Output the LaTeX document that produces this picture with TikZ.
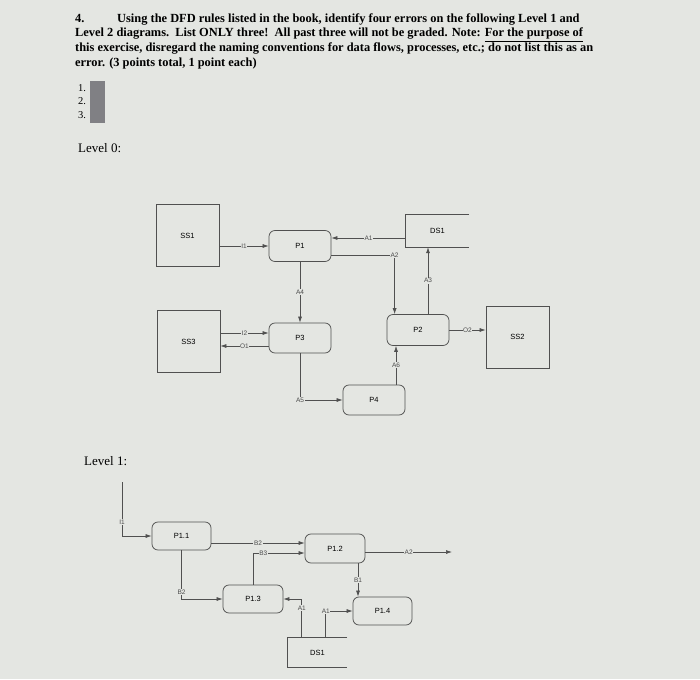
\documentclass[tikz,border=0pt]{standalone}
\usepackage{fontspec}
\setmainfont{Liberation Serif}
\setsansfont{Liberation Sans}
\usetikzlibrary{arrows.meta, calc}

\definecolor{paper}{RGB}{228,230,226}
\definecolor{ink}{RGB}{80,80,80}
\definecolor{blank}{RGB}{128,128,132}

\tikzset{
  ent/.style={draw=ink, line width=0.75pt, minimum width=63pt, minimum height=62pt,
    font=\sffamily\fontsize{7.5}{8}\selectfont},
  proc/.style={draw=ink, line width=0.75pt, rounded corners=6pt, minimum width=62pt,
    minimum height=31pt, font=\sffamily\fontsize{7.5}{8}\selectfont},
  store/.style={minimum width=63pt, minimum height=32pt,
    font=\sffamily\fontsize{7.5}{8}\selectfont},
  flow/.style={draw=ink, line width=0.65pt, -{Latex[length=6pt,width=4pt]}},
  lbl/.style={fill=paper, inner sep=0.6pt, text=black!70,
    font=\sffamily\fontsize{6.5}{7}\selectfont},
  hdr/.style={anchor=base west, inner sep=0pt, font=\fontsize{12.4}{13}\selectfont\bfseries}
}

\begin{document}
\begin{tikzpicture}[x=1pt, y=-1pt]
  \fill[paper] (0,0) rectangle (700,679);
  \useasboundingbox (0,0) rectangle (700,679);
  %--- Question text ---
  \node[hdr] (qnum) at (75,22.3) {4.};
  \node[hdr] (qline1) at (117,22.3) {Using the DFD rules listed in the book, identify four errors on the following Level 1 and};
  \node[hdr] (qline2) at (75,37) {Level 2 diagrams.\ \ List ONLY three!\ \ All past three will not be graded. Note: \underline{For the purpose of}};
  \node[hdr] (qline3) at (75,51.7) {this exercise, disregard the naming conventions for data flows, processes, etc.; do not list this as an};
  \node[hdr] (qline4) at (75,66.4) {error. (3 points total, 1 point each)};
  % answer list
  \foreach \n/\y in {1/92,2/105,3/119}
    \node[anchor=base west, inner sep=0pt, font=\fontsize{10.5}{11}\selectfont] (item\n) at (78,\y) {\n.};
  \fill[blank] (90,81) rectangle (105,123);
  \node[anchor=base west, inner sep=0pt, font=\fontsize{13}{14}\selectfont] (lev0) at (78,153) {Level 0:};
  \node[anchor=base west, inner sep=0pt, font=\fontsize{13}{14}\selectfont] (lev1) at (84,465) {Level 1:};

  %--- Level 0 ---
  \node[ent] (ss1) at (187.5,235.5) {SS1};
  \node[ent] (ss2) at (517.5,337) {SS2};
  \node[ent] (ss3) at (188.5,341.5) {SS3};
  \node[proc] (p1) at (300,246) {P1};
  \node[proc] (p2) at (418,330) {P2};
  \node[proc, minimum height=30pt] (p3) at (300,338) {P3};
  \node[proc, minimum height=30pt] (p4) at (374,400) {P4};
  \node[store] (ds1) at (437.5,231) {DS1};
  % flows
  \draw[flow] (ss1.east |- p1) -- node[lbl]{I1} (p1.west);
  \draw[flow] ($(ds1.west)+(0,7)$) coordinate (a1s) -- node[lbl]{A1} (p1.east |- a1s);
  \draw[flow] ($(p1.east)+(0,9)$) -| node[lbl, pos=0.5]{A2} ($(p2.north west)+(8,0)$);
  \draw[flow] ($(p2.north)+(10,0)$) coordinate (a3s) -- node[lbl]{A3} (ds1.south -| a3s);
  \draw[flow] (p1.south) -- node[lbl]{A4} (p3.north);
  \draw[flow] ($(ss3.east)+(0,-8.5)$) coordinate (i2s) -- node[lbl]{I2} (p3.west |- i2s);
  \draw[flow] ($(p3.west)+(0,8)$) coordinate (o1s) -- node[lbl]{O1} (ss3.east |- o1s);
  \draw[flow] (p2.east) -- node[lbl]{O2} (ss2.west |- p2);
  \draw[flow] (p3.south) |- node[lbl, pos=0.5]{A5} (p4.west);
  \draw[flow] ($(p4.north)+(22,0)$) coordinate (a6s) -- node[lbl]{A6} (p2.south -| a6s);

  %--- Level 1 ---
  \node[proc, minimum width=59pt, minimum height=28pt] (p11) at (181.5,536) {P1.1};
  \node[proc, minimum width=60pt, minimum height=29pt] (p12) at (335,548.5) {P1.2};
  \node[proc, minimum width=60pt, minimum height=28pt] (p13) at (253,599) {P1.3};
  \node[proc, minimum width=59pt, minimum height=28pt] (p14) at (382.5,611) {P1.4};
  \node[store, minimum width=59pt, minimum height=29pt] (ds1b) at (317.5,652.5) {DS1};
  \coordinate (i1s) at (122,482);
  \coordinate (a2end) at (452,552);
  % flows
  \draw[flow] (i1s) |- node[lbl, pos=0.37]{I1} (p11.west);
  \draw[flow] ($(p11.east)+(0,7)$) coordinate (b2s) -- node[lbl]{B2} (p12.west |- b2s);
  \draw[flow] (p13.north) |- node[lbl, pos=0.6]{B3} ($(p12.west)+(0,4.5)$);
  \draw[flow] (p11.south) |- node[lbl, pos=0.43]{B2} (p13.west);
  \draw[flow] (p12.east |- a2end) -- node[lbl]{A2} (a2end);
  \draw[flow] ($(p12.south)+(23,0)$) coordinate (b1s) -- node[lbl]{B1} (p14.north -| b1s);
  \draw[flow] ($(ds1b.north west)+(14,0)$) |- node[lbl, pos=0.38]{A1} (p13.east);
  \draw[flow] ($(ds1b.north west)+(38,0)$) |- node[lbl, pos=0.5]{A1} (p14.west);

  % data stores are open on the right
  \foreach \s in {ds1,ds1b}
    \draw[ink, line width=0.75pt] (\s.north east) -- (\s.north west) -- (\s.south west) -- (\s.south east);
\end{tikzpicture}
\end{document}
